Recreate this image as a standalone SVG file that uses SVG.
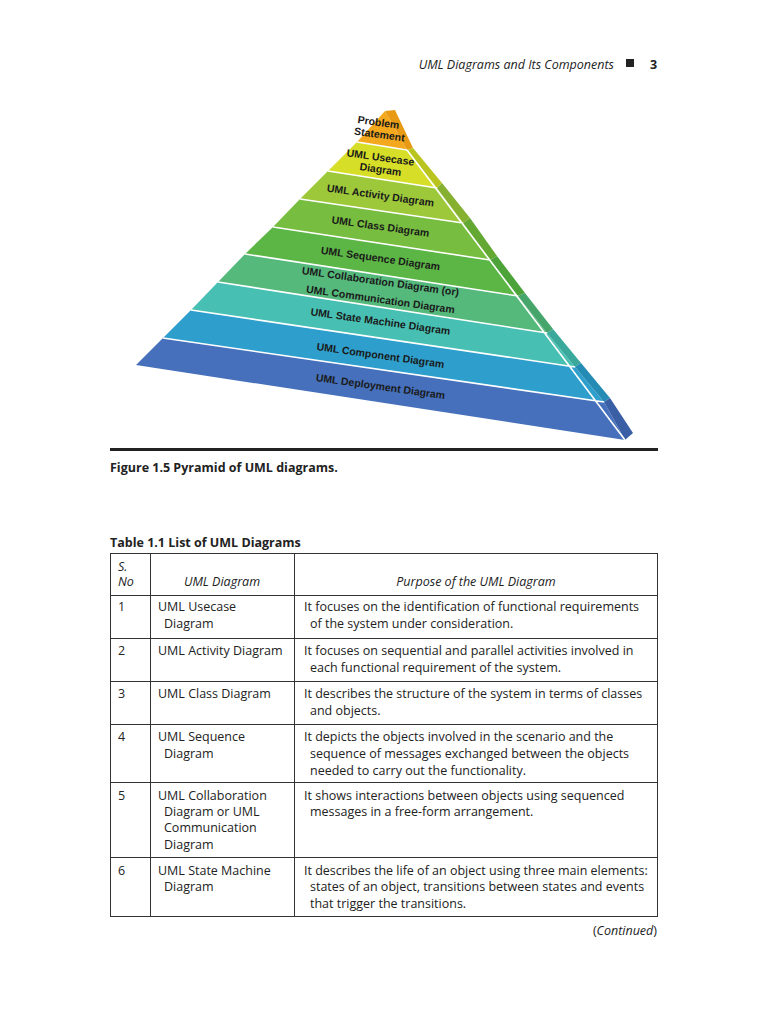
<svg xmlns="http://www.w3.org/2000/svg" width="768" height="1024" viewBox="0 0 768 1024">
<style>
.t{font-family:"Open Sans","Liberation Sans",sans-serif;font-size:12.5px;fill:#222}
.i{font-style:italic}
.b{font-weight:bold}
.p{font-family:"Liberation Sans",Arial,sans-serif;font-weight:bold;font-size:10.5px;fill:#1a1a1a;text-anchor:middle}
.sep{stroke:#fff;stroke-width:1.6;fill:none}
.g{stroke:#333;stroke-width:1;fill:none}
</style>
<rect width="768" height="1024" fill="#fff"/>
<text class="t i" x="614" y="69" text-anchor="end" font-size="14">UML Diagrams and Its Components</text>
<rect x="626" y="59" width="8" height="8" fill="#222"/>
<text class="t b" x="650" y="69" font-size="14">3</text>
<g id="pyramid">
<polygon points="385,111 407,150 357,142" fill="#f4a81d"/>
<polygon points="357,142 407,150 437,188 328,171" fill="#d6de27"/>
<polygon points="328,171 437,188 463,223 300,199" fill="#9dc83a"/>
<polygon points="300,199 463,223 490,260 273,227" fill="#77bd3f"/>
<polygon points="273,227 490,260 518,296 245,254" fill="#5cb646"/>
<polygon points="245,254 518,296 547,333 218,282" fill="#55b97c"/>
<polygon points="218,282 547,333 575,367 191,310" fill="#47c0b3"/>
<polygon points="191,310 575,367 604,402 163,338" fill="#2e9fcc"/>
<polygon points="163,338 604,402 625,440 136,365" fill="#4670bb"/>
<polygon points="385,111 395,110 413,148 407,150" fill="#e89a15"/>
<polygon points="407,150 413,148 442,183 437,188" fill="#b9c41f"/>
<polygon points="437,188 442,183 470,218 463,223" fill="#85b030"/>
<polygon points="463,223 470,218 497,256 490,260" fill="#64a834"/>
<polygon points="490,260 497,256 525,293 518,296" fill="#4ca33a"/>
<polygon points="518,296 525,293 553,329 547,333" fill="#45a56b"/>
<polygon points="547,333 553,329 581,363 575,367" fill="#3aa99c"/>
<polygon points="575,367 581,363 610,398 604,402" fill="#248bb5"/>
<polygon points="604,402 610,398 633,433 625,440" fill="#3a5fa5"/>
<path class="sep" d="M357,142 L407,150 M328,171 L437,188 M300,199 L463,223 M273,227 L490,260 M245,254 L518,296 M218,282 L547,333 M191,310 L575,367 M163,338 L604,402 M407,150 L625,440"/>
<text class="p" transform="translate(378,126) rotate(8)">Problem</text>
<text class="p" transform="translate(379,138) rotate(8)">Statement</text>
<text class="p" transform="translate(380,161) rotate(8)">UML Usecase</text>
<text class="p" transform="translate(380,173) rotate(8)">Diagram</text>
<text class="p" transform="translate(380,199) rotate(8)">UML Activity Diagram</text>
<text class="p" transform="translate(380,230) rotate(8)">UML Class Diagram</text>
<text class="p" transform="translate(380,262) rotate(8)">UML Sequence Diagram</text>
<text class="p" transform="translate(380,285) rotate(8)">UML Collaboration Diagram (or)</text>
<text class="p" transform="translate(380,303) rotate(8)">UML Communication Diagram</text>
<text class="p" transform="translate(380,325) rotate(8)">UML State Machine Diagram</text>
<text class="p" transform="translate(380,359) rotate(8)">UML Component Diagram</text>
<text class="p" transform="translate(380,390) rotate(8)">UML Deployment Diagram</text>
</g>
<rect x="110" y="448" width="548" height="3" fill="#222"/>
<text class="t b" x="110" y="472">Figure 1.5    Pyramid of UML diagrams.</text>
<text class="t b" x="110" y="547">Table 1.1    List of UML Diagrams</text>
<g id="table">
<rect class="g" x="110.5" y="553.5" width="547" height="363"/>
<path class="g" d="M150.5,553 V917 M294.5,553 V917 M110,595.5 H658 M110,638.5 H658 M110,681.5 H658 M110,724.5 H658 M110,782.5 H658 M110,857.5 H658"/>
<text class="t i" x="118" y="571">S.</text>
<text class="t i" x="118" y="586">No</text>
<text class="t i" x="222" y="586" text-anchor="middle">UML Diagram</text>
<text class="t i" x="476" y="586" text-anchor="middle">Purpose of the UML Diagram</text>
<g class="t">
<text x="118" y="611">1</text><text x="158" y="611">UML Usecase</text><text x="164" y="628">Diagram</text>
<text x="304" y="611">It focuses on the identification of functional requirements</text><text x="310" y="628">of the system under consideration.</text>
<text x="118" y="655">2</text><text x="158" y="655">UML Activity Diagram</text>
<text x="304" y="655">It focuses on sequential and parallel activities involved in</text><text x="310" y="672">each functional requirement of the system.</text>
<text x="118" y="698">3</text><text x="158" y="698">UML Class Diagram</text>
<text x="304" y="698">It describes the structure of the system in terms of classes</text><text x="310" y="715">and objects.</text>
<text x="118" y="741">4</text><text x="158" y="741">UML Sequence</text><text x="164" y="758">Diagram</text>
<text x="304" y="741">It depicts the objects involved in the scenario and the</text><text x="310" y="758">sequence of messages exchanged between the objects</text><text x="310" y="775">needed to carry out the functionality.</text>
<text x="118" y="800">5</text><text x="158" y="800">UML Collaboration</text><text x="164" y="816">Diagram or UML</text><text x="164" y="832">Communication</text><text x="164" y="849">Diagram</text>
<text x="304" y="800">It shows interactions between objects using sequenced</text><text x="310" y="816">messages in a free-form arrangement.</text>
<text x="118" y="875">6</text><text x="158" y="875">UML State Machine</text><text x="164" y="891">Diagram</text>
<text x="304" y="875">It describes the life of an object using three main elements:</text><text x="310" y="891">states of an object, transitions between states and events</text><text x="310" y="908">that trigger the transitions.</text>
</g>
</g>
<text class="t" x="657" y="935" text-anchor="end">(<tspan class="i">Continued</tspan>)</text>
</svg>
